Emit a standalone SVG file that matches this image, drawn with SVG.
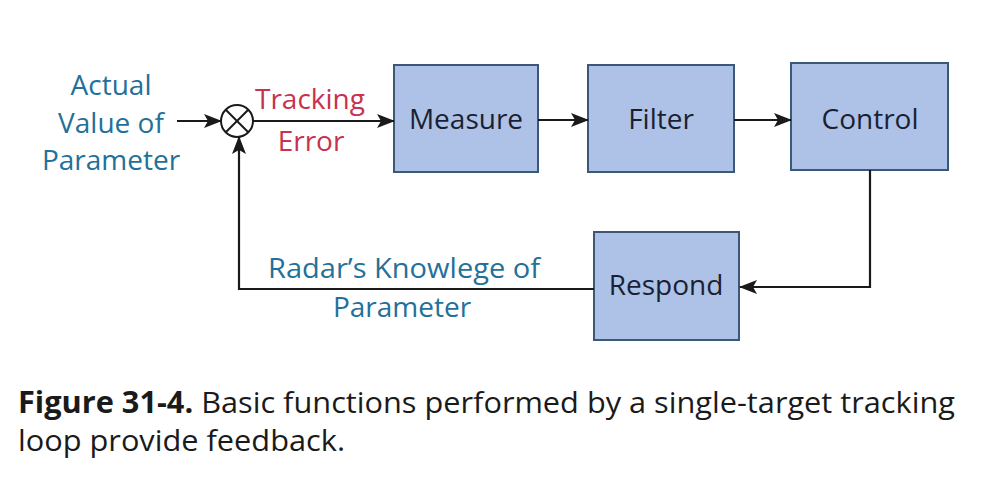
<svg xmlns="http://www.w3.org/2000/svg" width="992" height="498" viewBox="0 0 992 498">
<defs>
<style>
.box{fill:#adc2e6;stroke:#3b5878;stroke-width:2}
.lbl{font-family:"Open Sans","Noto Sans",sans-serif;font-size:28px;fill:#1b1f33;text-anchor:middle}
.blue{font-family:"Open Sans","Noto Sans",sans-serif;font-size:28px;fill:#23709a;text-anchor:middle}
.red{font-family:"Open Sans","Noto Sans",sans-serif;font-size:28px;fill:#c8324c;text-anchor:middle}
.ln{fill:none;stroke:#1a1a1a;stroke-width:2.2}
.cap{font-family:"Open Sans","Noto Sans",sans-serif;font-size:30px;fill:#1a1a1a}
</style>
<marker id="ah" markerUnits="userSpaceOnUse" markerWidth="18" markerHeight="14" viewBox="0 0 18 14" refX="17" refY="7" orient="auto">
<path d="M0,0 L18,7 L0,14 L4,7 Z" fill="#1a1a1a"/>
</marker>
</defs>
<rect width="992" height="498" fill="#ffffff"/>

<g id="input-label">
<text class="blue" x="111" y="95">Actual</text>
<text class="blue" x="111" y="133">Value of</text>
<text class="blue" x="111" y="170">Parameter</text>
</g>

<g id="summing-junction">
<circle cx="237" cy="121" r="16" fill="#ffffff" stroke="#1a1a1a" stroke-width="2"/>
<line x1="226" y1="110" x2="248" y2="132" stroke="#1a1a1a" stroke-width="2"/>
<line x1="248" y1="110" x2="226" y2="132" stroke="#1a1a1a" stroke-width="2"/>
</g>

<g id="tracking-error-label">
<text class="red" x="310" y="109">Tracking</text>
<text class="red" x="311" y="151">Error</text>
</g>

<g id="measure">
<rect class="box" x="394" y="65" width="144" height="107"/>
<text class="lbl" x="466" y="129">Measure</text>
</g>

<g id="filter">
<rect class="box" x="588" y="65" width="146" height="107"/>
<text class="lbl" x="661" y="129">Filter</text>
</g>

<g id="control">
<rect class="box" x="791" y="63" width="157" height="107"/>
<text class="lbl" x="870" y="129">Control</text>
</g>

<g id="respond">
<rect class="box" x="594" y="232" width="145" height="108"/>
<text class="lbl" x="666" y="295">Respond</text>
</g>

<g id="feedback-label">
<text class="blue" x="404" y="278" textLength="272" lengthAdjust="spacingAndGlyphs">Radar’s Knowlege of</text>
<text class="blue" x="402" y="317">Parameter</text>
</g>

<g id="connectors">
<line class="ln" x1="177" y1="121" x2="221" y2="121" marker-end="url(#ah)"/>
<line class="ln" x1="253" y1="121" x2="394" y2="121" marker-end="url(#ah)"/>
<line class="ln" x1="538" y1="120" x2="588" y2="120" marker-end="url(#ah)"/>
<line class="ln" x1="734" y1="120" x2="791" y2="120" marker-end="url(#ah)"/>
<polyline class="ln" points="870,170 870,287 740,287" marker-end="url(#ah)"/>
<polyline class="ln" points="594,289 239,289 239,137" stroke-width="2.6" marker-end="url(#ah)"/>
</g>

<g id="caption">
<text class="cap" x="18" y="413" textLength="937" lengthAdjust="spacingAndGlyphs"><tspan font-weight="bold">Figure 31-4.</tspan> Basic functions performed by a single-target tracking</text>
<text class="cap" x="18" y="451" textLength="327" lengthAdjust="spacingAndGlyphs">loop provide feedback.</text>
</g>
</svg>
